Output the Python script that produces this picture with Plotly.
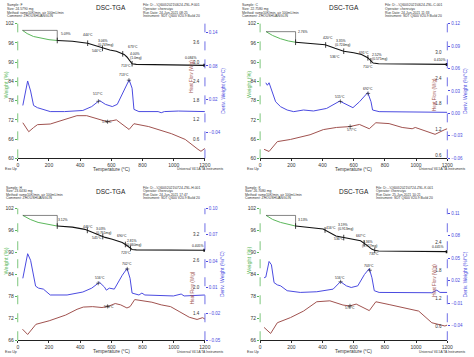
import numpy as np
import plotly.graph_objects as go

W, H = 474, 357
FONT = "Liberation Sans, Arial, sans-serif"

# ---------------- data ----------------
panel_names = ["F", "C", "H", "K"]
t_ticks = [0, 200, 400, 600, 800, 1000, 1200]

# weight (%) vs temperature (°C)
F_wt_T = [30, 60, 100, 150, 200, 253, 350, 448, 500, 543, 590, 632, 682, 700, 720, 733, 760, 850, 1000, 1200]
F_wt = [99.9, 98.9, 98.0, 97.4, 97.0, 96.75, 96.5, 95.9, 95.1, 94.3, 93.8, 93.4, 92.4, 91.6, 90.3, 89.5, 89.3, 89.2, 89.1, 89.0]
C_wt_T = [38, 80, 130, 180, 227, 300, 417, 480, 536, 600, 650, 690, 710, 725, 760, 900, 1200]
C_wt = [99.5, 98.3, 97.3, 96.6, 96.2, 95.9, 95.4, 94.3, 93.4, 92.9, 92.4, 91.4, 90.4, 89.7, 89.5, 89.4, 89.3]
H_wt_T = [32, 80, 130, 200, 253, 350, 430, 513, 560, 606, 670, 700, 720, 733, 760, 900, 1200]
H_wt = [100.1, 99.0, 98.2, 97.6, 97.2, 96.9, 96.3, 94.8, 94.1, 93.6, 92.7, 91.9, 91.2, 90.8, 90.7, 90.65, 90.6]
K_wt_T = [38, 80, 130, 180, 227, 300, 404, 486, 575, 644, 690, 715, 733, 760, 900, 1200]
K_wt = [100.1, 99.0, 98.2, 97.6, 97.2, 96.9, 96.4, 94.5, 93.7, 93.2, 91.8, 90.9, 90.6, 90.4, 90.3, 90.2]

# first (green) step: start T, end T, start weight, end weight
F_step = [30, 253, 99.9, 96.75]
C_step = [38, 227, 99.5, 96.2]
H_step = [32, 253, 100.1, 97.2]
K_step = [38, 227, 100.1, 97.2]

# derivative weight (%/°C)
F_dw_T = [32, 63, 82, 101, 126, 208, 300, 417, 474, 524, 562, 606, 638, 682, 714, 733, 745, 777, 900, 920, 940, 1030, 1200]
F_dw = [0.009, 0.053, 0.035, 0.009, 0.005, -0.002, -0.002, 0.0, 0.007, 0.018, 0.011, 0.007, 0.011, 0.035, 0.055, 0.040, 0.002, -0.002, -0.002, -0.004, -0.002, -0.001, -0.002]
C_dw_T = [36, 46, 57, 67, 99, 131, 173, 215, 278, 342, 426, 510, 563, 595, 637, 679, 690, 711, 721, 763, 1200]
C_dw = [0.041, 0.0377, 0.041, 0.0354, 0.0156, 0.009, 0.0046, 0.0024, 0.0046, 0.0033, 0.0067, 0.0165, 0.0112, 0.0077, 0.0156, 0.0266, 0.0279, 0.0156, 0.0046, 0.0024, 0.0015]
H_dw_T = [32, 63, 82, 114, 133, 164, 208, 316, 417, 474, 524, 556, 568, 587, 619, 670, 701, 720, 733, 777, 796, 815, 998, 1048, 1067, 1200]
H_dw = [0.0205, 0.0485, 0.041, 0.0116, 0.0093, 0.0082, 0.0015, 0.0015, 0.0049, 0.0093, 0.016, 0.0105, 0.007, 0.0093, 0.0082, 0.024, 0.0317, 0.0205, 0.0037, 0.0015, 0.0037, 0.0015, 0.0004, 0.0026, 0.0004, 0.0015]
K_dw_T = [25, 36, 57, 72, 89, 110, 131, 173, 257, 363, 468, 515, 553, 584, 626, 669, 700, 717, 732, 763, 1101, 1133, 1154, 1200]
K_dw = [0.0239, 0.0248, 0.0457, 0.0413, 0.0174, 0.0144, 0.0131, 0.0066, 0.0043, 0.0052, 0.0087, 0.0187, 0.0131, 0.0109, 0.0131, 0.0283, 0.0361, 0.0239, 0.0066, 0.0043, 0.0039, 0.0073, 0.0043, 0.0043]

# heat flow (W/g)
F_hf_T = [32, 70, 101, 126, 208, 300, 379, 442, 524, 575, 632, 714, 745, 840, 985, 1074, 1156, 1175, 1200]
F_hf = [1.11, 0.83, 0.96, 1.05, 1.07, 1.2, 1.33, 1.33, 1.2, 1.14, 1.2, 0.9, 1.08, 0.99, 0.77, 0.59, 0.28, 0.22, 0.31]
C_hf_T = [25, 57, 110, 194, 320, 405, 489, 574, 637, 700, 742, 827, 911, 975, 995, 1080, 1122, 1185, 1200]
C_hf = [0.74, 0.69, 0.92, 0.97, 1.08, 1.2, 1.25, 1.27, 1.32, 1.22, 1.36, 1.34, 1.25, 1.22, 1.25, 1.15, 1.09, 1.2, 1.22]
H_hf_T = [30, 63, 116, 201, 307, 380, 420, 480, 540, 582, 625, 660, 700, 720, 750, 800, 860, 920, 980, 1040, 1100, 1150, 1185, 1200]
H_hf = [1.05, 0.93, 1.16, 1.24, 1.37, 1.5, 1.55, 1.56, 1.54, 1.57, 1.63, 1.6, 1.53, 1.56, 1.72, 1.7, 1.66, 1.6, 1.56, 1.44, 1.32, 1.27, 1.31, 1.28]
K_hf_T = [25, 67, 110, 194, 278, 363, 447, 531, 574, 616, 700, 742, 827, 932, 1017, 1101, 1185, 1200]
K_hf = [0.57, 0.44, 0.67, 0.78, 0.92, 1.12, 1.14, 1.05, 1.03, 1.07, 0.93, 1.12, 1.06, 0.99, 0.92, 0.67, 0.6, 0.62]

# axis ranges / tick labels
wt_range_top, wt_range_bot = [60, 102], [66, 102]
wt_ticks_top = [60, 66, 72, 78, 84, 90, 96, 102]
wt_ticks_bot = [66, 72, 78, 84, 90, 96, 102]
F_dw_range, F_dw_ticks = [-0.086, 0.156], [-0.04, 0.02, 0.08, 0.14]
C_dw_range, C_dw_ticks = [-0.06, 0.12], [-0.06, -0.03, 0.0, 0.03, 0.06, 0.09, 0.12]
H_dw_range, H_dw_ticks = [-0.05, 0.10], [-0.05, -0.02, 0.01, 0.04, 0.07, 0.10]
K_dw_range, K_dw_ticks = [-0.0596, 0.1165], [-0.04, -0.01, 0.02, 0.05, 0.08, 0.11]
F_hf_range, F_hf_ticks = [0.0, 4.2], [0.6, 1.2, 1.8, 2.4, 3.0, 3.6]
C_hf_range, C_hf_ticks = [0.53, 3.67], [0.6, 1.2, 1.8, 2.4, 3.0]
H_hf_range, H_hf_ticks = [0.8, 3.78], [1.4, 2.0, 2.6, 3.2]
K_hf_range, K_hf_ticks = [0.295, 3.12], [0.6, 1.2, 1.8, 2.4]

# marked points (°C)
F_marks = [253, 448, 543, 673, 733]
C_marks = [227, 420, 536, 691, 710]
H_marks = [253, 446, 545, 690, 723]
K_marks = [227, 416, 536, 667, 735]
F_peaks, C_peaks, H_peaks, K_peaks = [517, 713], [515, 692], [516, 702], [516, 703]
F_hfmark, C_hfmark, H_hfmark, K_hfmark = [576], [577], [576], [576]

headers = {
    "F": (["Sample: F", "Size: 24.5790 mg", "Method: ramp10K/min, air 100mL/min", "Comment: ZHOUSHUANGLIN"],
          ["File: D:...\\Q600\\2021\\0624-ZSL-F.001", "Operator: chenruiyu", "Run Date: 24-Jun-2021 08:25", "Instrument: SDT Q600 V20.9 Build 20"]),
    "C": (["Sample: C", "Size: 22.7580 mg", "Method: ramp10K/min, air 100mL/min", "Comment: ZHOUSHUANGLIN"],
          ["File: D:...\\Q600\\2021\\0624-ZSL-C.001", "Operator: chenruiyu", "Run Date: 24-Jun-2021 11:33", "Instrument: SDT Q600 V20.9 Build 20"]),
    "H": (["Sample: H", "Size: 23.6430 mg", "Method: ramp10K/min, air 100mL/min", "Comment: ZHOUSHUANGLIN"],
          ["File: D:...\\Q600\\2021\\0724-ZSL-H.001", "Operator: chenruiyu", "Run Date: 24-Jun-2021 17:47", "Instrument: SDT Q600 V20.9 Build 20"]),
    "K": (["Sample: K", "Size: 26.7080 mg", "Method: ramp10K/min, air 100mL/min", "Comment: ZHOUSHUANGLIN"],
          ["File: D:...\\Q600\\2021\\0724-ZSL-K.001", "Operator: chenruiyu", "Run Date: 25-Jun-2021 10:21", "Instrument: SDT Q600 V20.9 Build 20"]),
}

# curve labels: (text, px x, px y)
labels = {
    "F": [("5.09%", 66, 32), ("444°C", 88, 33), ("3.06%", 104, 38.5), ("(0.749mg)", 106, 42.5), ("544°C", 97, 49),
          ("673°C", 134, 45), ("4.00%", 136, 52), ("(1.0mg)", 137, 56), ("713°C", 127, 64), ("0.084%", 193, 56),
          ("517°C", 98, 93), ("713°C", 125, 73), ("576°C", 108, 121)],
    "C": [("2.76%", 307, 29), ("420°C", 332, 36), ("3.35%", 345, 39), ("(0.724mg)", 347, 43), ("536°C", 339, 55),
          ("691°C", 368, 51), ("2.52%", 382, 53), ("(0.571mg)", 384, 57), ("710°C", 373, 65), ("0.410%", 446, 58),
          ("515°C", 344, 96), ("692°C", 372, 87), ("577°C", 356, 129)],
    "H": [("3.12%", 63, 221), ("446°C", 88, 228), ("3.03%", 102, 230), ("(0.761mg)", 104, 234), ("545°C", 97, 239),
          ("690°C", 123, 237), ("2.81%", 133, 242), ("(0.660mg)", 134, 246), ("723°C", 127, 254), ("0.405%", 200, 247),
          ("516°C", 100, 280), ("702°C", 128, 265), ("576°C", 110, 309)],
    "K": [("3.13%", 307, 221), ("416°C", 335, 229), ("3.19%", 347, 226), ("(0.913mg)", 350, 230), ("536°C", 343, 240),
          ("667°C", 365, 237), ("3.36%", 372, 243), ("(0.927mg)", 374, 247), ("735°C", 379, 255), ("0.445%", 444, 248),
          ("516°C", 344, 280), ("703°C", 374, 267), ("576°C", 354, 310)],
}

# ---------------- layout geometry (pixels) ----------------
geom = {
    "F": dict(x0=17, x1=207, y0=21, y1=158, hx=5, hr=143, hy=2.5, dsc=112, dscy=5, top=True, wty=83, hfy=75),
    "C": dict(x0=263, x1=453, y0=21, y1=158, hx=244, hr=389, hy=2.5, dsc=348, dscy=5, top=True, wty=83, hfy=93),
    "H": dict(x0=17, x1=207, y0=209, y1=343, hx=4, hr=143, hy=188, dsc=112, dscy=192, top=False, wty=262, hfy=290),
    "K": dict(x0=263, x1=453, y0=209, y1=343, hx=247, hr=380, hy=188, dsc=358, dscy=192, top=False, wty=262, hfy=282),
}

GREEN, BLUE, RED, TXT = "#5cb85c", "#4b4be0", "#a0524f", "#333333"

data = {
    "F": (F_wt_T, F_wt, F_step, F_dw_T, F_dw, F_hf_T, F_hf, F_dw_range, F_dw_ticks, F_hf_range, F_hf_ticks, F_marks, F_peaks, F_hfmark),
    "C": (C_wt_T, C_wt, C_step, C_dw_T, C_dw, C_hf_T, C_hf, C_dw_range, C_dw_ticks, C_hf_range, C_hf_ticks, C_marks, C_peaks, C_hfmark),
    "H": (H_wt_T, H_wt, H_step, H_dw_T, H_dw, H_hf_T, H_hf, H_dw_range, H_dw_ticks, H_hf_range, H_hf_ticks, H_marks, H_peaks, H_hfmark),
    "K": (K_wt_T, K_wt, K_step, K_dw_T, K_dw, K_hf_T, K_hf, K_dw_range, K_dw_ticks, K_hf_range, K_hf_ticks, K_marks, K_peaks, K_hfmark),
}


def ann(x, y, s, size, color=TXT, xanchor="center", angle=0):
    return dict(x=x / W, y=1 - y / H, xref="paper", yref="paper", text=s, showarrow=False,
                font=dict(size=size, color=color, family=FONT), xanchor=xanchor, yanchor="middle",
                textangle=angle, borderpad=0)


fig = go.Figure()
layout = dict(width=W, height=H, margin=dict(l=0, r=0, t=0, b=0), autosize=False,
              paper_bgcolor="white", plot_bgcolor="white", showlegend=False,
              font=dict(family=FONT, size=5, color=TXT))
annotations, shapes = [], []

for i, p in enumerate(panel_names):
    g = geom[p]
    (wT, wV, step, dT, dV, hT, hV, drange, dticks, hrange, hticks, marks, peaks, hfm) = data[p]
    xn = "" if i == 0 else str(i + 1)
    yw, yb, yr = 3 * i + 1, 3 * i + 2, 3 * i + 3
    yws = "" if yw == 1 else str(yw)
    xref, ywref, ybref, yrref = "x" + xn, "y" + yws, "y" + str(yb), "y" + str(yr)
    xd = [g["x0"] / W, g["x1"] / W]
    yd = [1 - g["y1"] / H, 1 - g["y0"] / H]
    top = g["top"]
    wr = wt_range_top if top else wt_range_bot
    wtk = wt_ticks_top if top else wt_ticks_bot

    layout["xaxis" + xn] = dict(domain=xd, anchor=ywref, range=[-0.5, 1200.5], tickvals=t_ticks, ticks="outside",
                                ticklen=2, tickwidth=0.6, tickcolor="#333", showline=True, linecolor="#222",
                                linewidth=0.8, tickfont=dict(size=5, color=TXT), showgrid=False, zeroline=False)
    layout["yaxis" + yws] = dict(domain=yd, anchor=xref, range=wr, tickvals=wtk, ticks="outside", ticklen=2,
                                 tickwidth=0.6, tickcolor=GREEN, showline=False, tickfont=dict(size=5, color=TXT),
                                 showgrid=False, zeroline=False)
    layout["yaxis" + str(yb)] = dict(overlaying=ywref, anchor=xref, side="right", range=drange, tickvals=dticks,
                                     tickformat=".2f", ticks="outside", ticklen=2, tickwidth=0.6, tickcolor=BLUE,
                                     showline=False, tickfont=dict(size=4.5, color=BLUE), showgrid=False,
                                     zeroline=False)
    layout["yaxis" + str(yr)] = dict(overlaying=ywref, anchor=xref, side="right", range=hrange, tickvals=hticks,
                                     tickformat=".1f", ticks="", ticklabelstandoff=-13, showline=False,
                                     tickfont=dict(size=4.5, color=TXT), showgrid=False, zeroline=False)

    # dashed axis lines
    shapes.append(dict(type="line", xref="paper", yref="paper", x0=xd[0], x1=xd[0], y0=yd[0], y1=yd[1],
                       line=dict(color=GREEN, width=0.8, dash="dash")))
    shapes.append(dict(type="line", xref="paper", yref="paper", x0=xd[1], x1=xd[1], y0=yd[0], y1=yd[1],
                       line=dict(color=BLUE, width=0.8, dash="dash")))

    # traces
    wT_a, wV_a = np.array(wT, float), np.array(wV, float)
    split = step[1]
    gmask = wT_a <= split
    bmask = wT_a >= split
    fig.add_trace(go.Scatter(x=wT_a[gmask], y=wV_a[gmask], mode="lines", line=dict(color=GREEN, width=1),
                             xaxis=xref, yaxis=ywref, hoverinfo="skip"))
    fig.add_trace(go.Scatter(x=wT_a[bmask], y=wV_a[bmask], mode="lines",
                             line=dict(color="#111", width=1.1), xaxis=xref, yaxis=ywref, hoverinfo="skip"))
    # step bracket
    fig.add_trace(go.Scatter(x=[step[0], step[1], step[1]], y=[step[2], step[2], step[3]], mode="lines",
                             line=dict(color="#333", width=0.6), xaxis=xref, yaxis=ywref, hoverinfo="skip"))
    # marks on weight curve
    mT = np.array(marks, float)
    fig.add_trace(go.Scatter(x=mT, y=np.interp(mT, wT_a, wV_a), mode="markers",
                             marker=dict(symbol="line-ns", size=4, line=dict(color="#111", width=0.8)),
                             xaxis=xref, yaxis=ywref, hoverinfo="skip"))
    fig.add_trace(go.Scatter(x=[1200], y=[wV_a[-1]], mode="markers",
                             marker=dict(symbol="square", size=3, color="#111"),
                             xaxis=xref, yaxis=ywref, hoverinfo="skip"))
    fig.add_trace(go.Scatter(x=dT, y=dV, mode="lines", line=dict(color=BLUE, width=1),
                             xaxis=xref, yaxis=ybref, hoverinfo="skip"))
    pT = np.array(peaks, float)
    fig.add_trace(go.Scatter(x=pT, y=np.interp(pT, dT, dV), mode="markers",
                             marker=dict(symbol="cross-thin", size=3, line=dict(color="#222", width=0.6)),
                             xaxis=xref, yaxis=ybref, hoverinfo="skip"))
    fig.add_trace(go.Scatter(x=hT, y=hV, mode="lines", line=dict(color=RED, width=1),
                             xaxis=xref, yaxis=yrref, hoverinfo="skip"))
    hTm = np.array(hfm, float)
    fig.add_trace(go.Scatter(x=hTm, y=np.interp(hTm, hT, hV), mode="markers",
                             marker=dict(symbol="cross-thin", size=3, line=dict(color="#222", width=0.6)),
                             xaxis=xref, yaxis=yrref, hoverinfo="skip"))

    # headers
    lhdr, rhdr = headers[p]
    for k, s in enumerate(lhdr):
        annotations.append(ann(g["hx"], g["hy"] + 3.6 * k, s, 3.4, xanchor="left"))
    for k, s in enumerate(rhdr):
        annotations.append(ann(g["hr"], g["hy"] + 3.6 * k, s, 3.4, xanchor="left"))
    annotations.append(ann(g["dsc"], g["dscy"], "DSC-TGA", 6.5, color="#222"))

    # axis titles
    ym = (g["y0"] + g["y1"]) / 2
    annotations.append(ann(g["x0"] - 12, g["wty"], "Weight (%)", 5.5, color=GREEN, angle=-90))
    annotations.append(ann(g["x1"] + 18, ym, "Deriv. Weight (%/°C)", 5, color=BLUE, angle=-90))
    annotations.append(ann(g["x1"] - 13, g["hfy"], "Heat Flow (W/g)", 4.5, color=RED, angle=-90))
    ty = g["y1"] + 11 if top else g["y1"] + 11.5
    annotations.append(ann((g["x0"] + g["x1"]) / 2, ty, "Temperature (°C)", 4.8))
    annotations.append(ann(g["x0"] - 14, ty, "Exo Up", 3.6, xanchor="left"))
    annotations.append(ann(g["x1"] + 20, ty, "Universal V4.5A TA Instruments", 3.3, xanchor="right"))

    for s, x, y in labels[p]:
        annotations.append(ann(x, y, s, 3.4, color="#222"))

layout["annotations"] = annotations
layout["shapes"] = shapes
fig.update_layout(**layout)
fig.write_html("out.html", config={"displayModeBar": False},
               post_script="document.body.style.margin='0';document.body.style.overflow='hidden';")
